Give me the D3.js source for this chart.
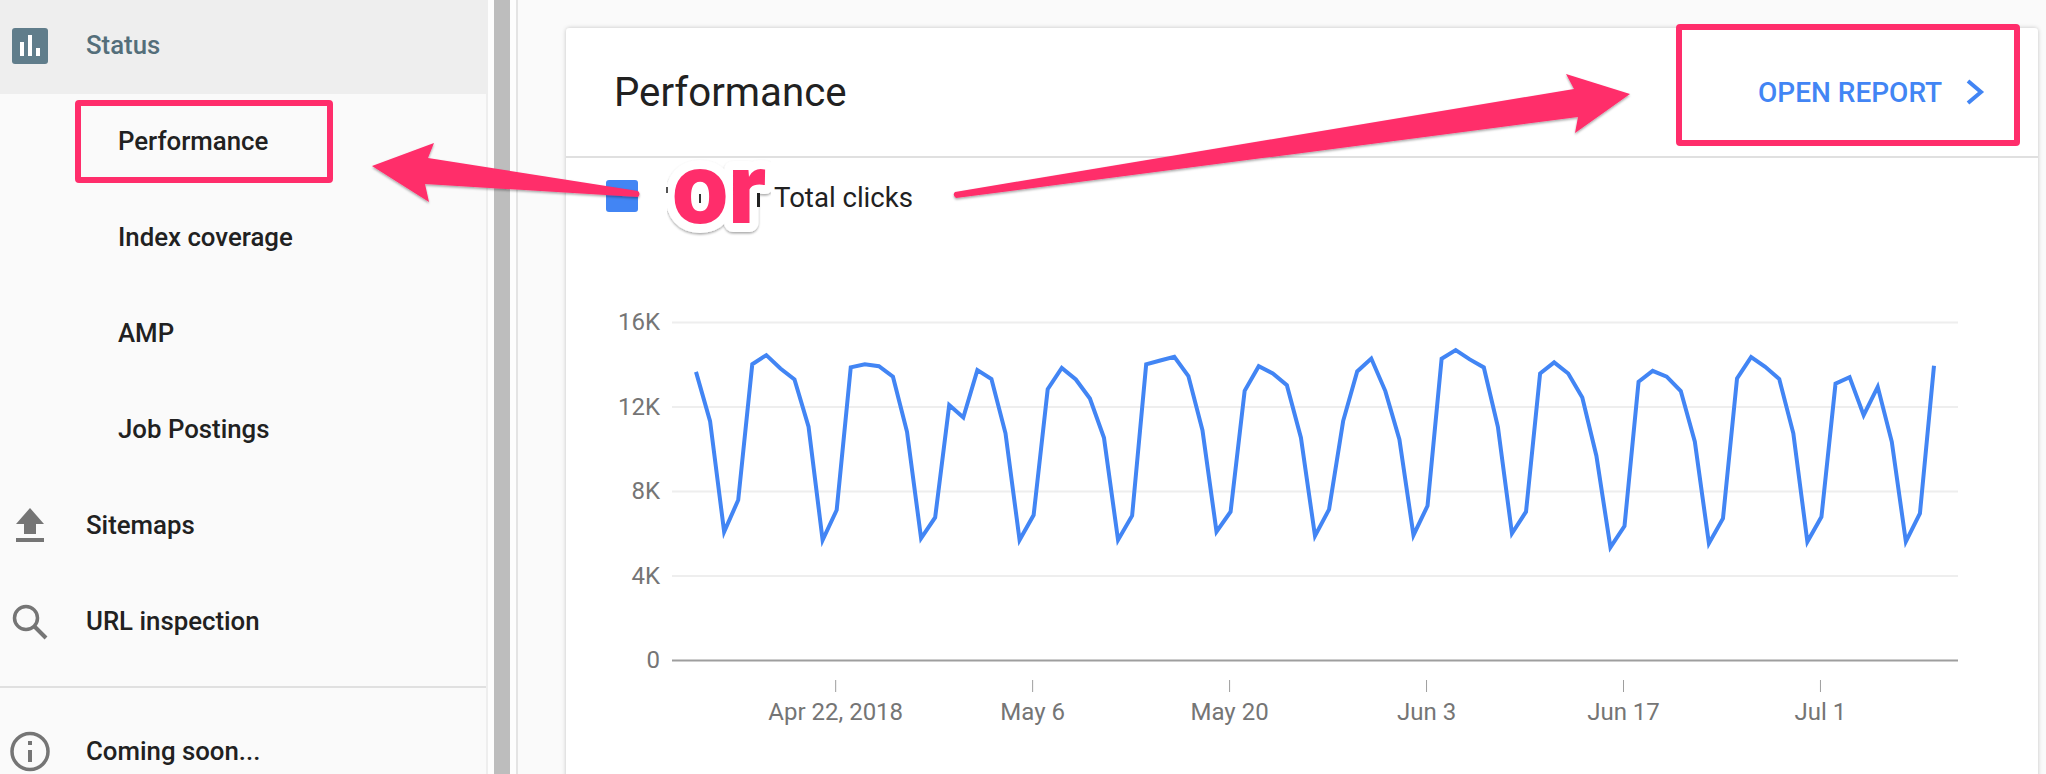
<!DOCTYPE html>
<html>
<head>
<meta charset="utf-8">
<script src="https://cdn.jsdelivr.net/npm/d3@7"></script>
<style>
  html, body { margin: 0; padding: 0; background: #fafafa; }
  svg { display: block; font-family: Roboto, sans-serif; }
</style>
</head>
<body>
<svg id="page" width="2046" height="774"></svg>
<script>
// daily total clicks (Apr 12 - Jul 9, 2018)
const startDate = new Date(Date.UTC(2018, 3, 12))
const clicks = [
  13640, 11310, 6070, 7570, 14000, 14430, 13800, 13280, 11040, 5680,
  7100, 13850, 14000, 13910, 13410, 10800, 5760, 6750, 12070, 11480,
  13720, 13300, 10730, 5680, 6860, 12820, 13830, 13280, 12380, 10520,
  5680, 6830, 14000, 14180, 14350, 13440, 10880, 6070, 7020, 12740,
  13910, 13560, 13010, 10520, 5870, 7130, 11310, 13660, 14270, 12730,
  10440, 5910, 7300, 14260, 14670, 14230, 13850, 11040, 5990, 7020,
  13560, 14090, 13560, 12430, 9670, 5330, 6340, 13170, 13690, 13410,
  12730, 10330, 5520, 6700, 13330, 14340, 13880, 13300, 10730, 5600,
  6780, 13080, 13390, 11590, 12930, 10330, 5600, 6940, 13930,
]
const yTicks = [0, 4000, 8000, 12000, 16000]
const yLabels = ["0", "4K", "8K", "12K", "16K"]
const xTicks = [
  new Date(Date.UTC(2018, 3, 22)),
  new Date(Date.UTC(2018, 4, 6)),
  new Date(Date.UTC(2018, 4, 20)),
  new Date(Date.UTC(2018, 5, 3)),
  new Date(Date.UTC(2018, 5, 17)),
  new Date(Date.UTC(2018, 6, 1)),
]
const xLabels = ["Apr 22, 2018", "May 6", "May 20", "Jun 3", "Jun 17", "Jul 1"]

const navChildren = ["Performance", "Index coverage", "AMP", "Job Postings"]
const navTop = ["Sitemaps", "URL inspection"]

const pink = "#ff2d6b"
const blue = "#4285f4"

const svg = d3.select("#page")
const defs = svg.append("defs")

const shadow = defs.append("filter").attr("id", "shadow")
  .attr("x", "-5%").attr("y", "-20%").attr("width", "110%").attr("height", "150%")
shadow.append("feDropShadow").attr("dx", 0).attr("dy", 1.5).attr("stdDeviation", 1)
  .attr("flood-color", "#000").attr("flood-opacity", 0.35)

const cardShadow = defs.append("filter").attr("id", "card-shadow")
  .attr("x", "-2%").attr("y", "-2%").attr("width", "104%").attr("height", "104%")
cardShadow.append("feDropShadow").attr("dx", 0).attr("dy", 0).attr("stdDeviation", 2)
  .attr("flood-color", "#000").attr("flood-opacity", 0.22)

// sidebar
const side = svg.append("g")
side.append("rect").attr("x", 0).attr("y", 0).attr("width", 486).attr("height", 94).attr("fill", "#eeeeee")
side.append("rect").attr("x", 486).attr("y", 0).attr("width", 2).attr("height", 774).attr("fill", "#eeeeee")
side.append("rect").attr("x", 488).attr("y", 0).attr("width", 6).attr("height", 774).attr("fill", "#fdfdfd")
side.append("rect").attr("x", 494).attr("y", 0).attr("width", 16).attr("height", 774).attr("fill", "#bdbdbd")
side.append("rect").attr("x", 510).attr("y", 0).attr("width", 6).attr("height", 774).attr("fill", "#fdfdfd")
side.append("rect").attr("x", 516).attr("y", 0).attr("width", 2).attr("height", 774).attr("fill", "#e4e4e4")
side.append("rect").attr("x", 0).attr("y", 686).attr("width", 486).attr("height", 2).attr("fill", "#e0e0e0")

side.append("rect").attr("x", 12).attr("y", 28).attr("width", 36).attr("height", 36).attr("rx", 3).attr("fill", "#607d8b")
side.append("rect").attr("x", 20).attr("y", 42).attr("width", 4).attr("height", 14).attr("fill", "#fff")
side.append("rect").attr("x", 28).attr("y", 35).attr("width", 4).attr("height", 21).attr("fill", "#fff")
side.append("rect").attr("x", 36).attr("y", 48).attr("width", 4).attr("height", 8).attr("fill", "#fff")

const navText = (label, x, y, color) => side.append("text")
  .attr("x", x).attr("y", y).attr("dy", "0.35em")
  .attr("font-size", 25.8).attr("font-weight", 500).attr("fill", color).text(label)

navText("Status", 86, 45, "#546e7a")
navChildren.forEach((label, i) => navText(label, 118, 141 + i * 96, "#212121"))
navTop.forEach((label, i) => navText(label, 86, 525 + i * 96, "#212121"))
navText("Coming soon...", 86, 751, "#212121")

// upload icon
side.append("path").attr("d", "M30 508 L44 524 L36 524 L36 534 L24 534 L24 524 L16 524 Z").attr("fill", "#757575")
side.append("rect").attr("x", 16).attr("y", 538).attr("width", 28).attr("height", 4).attr("fill", "#757575")
// search icon
side.append("circle").attr("cx", 26).attr("cy", 618).attr("r", 11.5)
  .attr("fill", "none").attr("stroke", "#757575").attr("stroke-width", 3.5)
side.append("line").attr("x1", 34).attr("y1", 626).attr("x2", 46).attr("y2", 638)
  .attr("stroke", "#757575").attr("stroke-width", 4)
// info icon
side.append("circle").attr("cx", 30).attr("cy", 751.5).attr("r", 18)
  .attr("fill", "none").attr("stroke", "#757575").attr("stroke-width", 3.5)
side.append("rect").attr("x", 28).attr("y", 750).attr("width", 4).attr("height", 12).attr("fill", "#757575")
side.append("rect").attr("x", 28).attr("y", 741).attr("width", 4).attr("height", 4).attr("fill", "#757575")

// card
const card = svg.append("g")
card.append("rect").attr("x", 566).attr("y", 28).attr("width", 1472).attr("height", 780).attr("rx", 4)
  .attr("fill", "#fff").attr("filter", "url(#card-shadow)")
card.append("rect").attr("x", 566).attr("y", 156).attr("width", 1472).attr("height", 2).attr("fill", "#e0e0e0")
card.append("text").attr("x", 614).attr("y", 92).attr("dy", "0.35em")
  .attr("font-size", 40.2).attr("fill", "#212121").text("Performance")
card.append("text").attr("x", 1758).attr("y", 92).attr("dy", "0.35em")
  .attr("font-size", 28).attr("font-weight", 500).attr("fill", blue).text("OPEN REPORT")
card.append("path").attr("d", "M1968 81 L1981 92 L1968 103").attr("fill", "none")
  .attr("stroke", blue).attr("stroke-width", 4)

// legend
card.append("rect").attr("x", 606).attr("y", 180).attr("width", 32).attr("height", 32).attr("rx", 3).attr("fill", blue)
card.append("text").attr("x", 774).attr("y", 197).attr("dy", "0.35em")
  .attr("font-size", 27.6).attr("fill", "#212121").text("Total clicks")

// chart
const x = d3.scaleUtc()
  .domain([startDate, d3.utcDay.offset(startDate, clicks.length - 1)])
  .range([696, 1934])
const y = d3.scaleLinear().domain([0, 16000]).range([660, 322])

const yAxis = d3.axisLeft(y)
  .tickValues(yTicks)
  .tickFormat((d) => yLabels[yTicks.indexOf(d)])
  .tickSize(-(1958 - 672))
  .tickPadding(12)
const yAxisG = card.append("g").attr("transform", "translate(672,0)").call(yAxis)
yAxisG.select(".domain").remove()
yAxisG.selectAll("line").attr("stroke", (d) => (d === 0 ? "#9e9e9e" : "#eeeeee")).attr("stroke-width", 2)
yAxisG.selectAll("text").attr("font-size", 24).attr("font-family", "Roboto, sans-serif").attr("fill", "#757575")

const xAxis = d3.axisBottom(x)
  .tickValues(xTicks)
  .tickFormat((d, i) => xLabels[i])
  .tickSize(12)
  .tickPadding(11)
const xAxisG = card.append("g").attr("transform", "translate(-1.5,680)").call(xAxis)
xAxisG.select(".domain").remove()
xAxisG.selectAll("line").attr("stroke", "#9e9e9e")
xAxisG.selectAll("text").attr("font-size", 24).attr("font-family", "Roboto, sans-serif").attr("fill", "#757575")

const line = d3.line()
  .x((d, i) => x(d3.utcDay.offset(startDate, i)))
  .y((d) => y(d))
card.append("path").datum(clicks).attr("d", line)
  .attr("fill", "none").attr("stroke", blue).attr("stroke-width", 4).attr("stroke-linejoin", "miter")

// annotations
const notes = svg.append("g")
const noteBox = (bx, by, w, h) => notes.append("rect")
  .attr("x", bx).attr("y", by).attr("width", w).attr("height", h).attr("rx", 1)
  .attr("fill", "none").attr("stroke", pink).attr("stroke-width", 6)
noteBox(78, 103, 252, 77)
noteBox(1679, 27, 338, 116)

notes.append("path")
  .attr("d", "M372 166 L434 143 L428 158 L638 191 Q641 194 638 197 L425 184 L429 202 Z")
  .attr("fill", pink).attr("filter", "url(#shadow)")
notes.append("path")
  .attr("d", "M955 192 L1574 89 L1566 74 L1630 94 L1575 133 L1578 117 L956 198 Q952 195 955 192 Z")
  .attr("fill", pink).attr("filter", "url(#shadow)")

// the hand-placed "or" sticker, white outline under the pink letters
notes.append("text").attr("x", 672).attr("y", 223)
  .attr("font-size", 100).attr("font-weight", 900)
  .attr("fill", "#fff").attr("stroke", "#fff").attr("stroke-width", 18).attr("stroke-linejoin", "round")
  .attr("filter", "url(#shadow)").text("or")
notes.append("text").attr("x", 672).attr("y", 223)
  .attr("font-size", 100).attr("font-weight", 900).attr("fill", pink).text("or")
// scraps of the covered legend text, still showing around the sticker
notes.append("rect").attr("x", 699).attr("y", 194).attr("width", 2).attr("height", 9).attr("fill", "#333")
notes.append("rect").attr("x", 666).attr("y", 187).attr("width", 2).attr("height", 6).attr("fill", "#555")
notes.append("rect").attr("x", 757).attr("y", 193).attr("width", 3).attr("height", 14).attr("fill", "#212121")
</script>
</body>
</html>
